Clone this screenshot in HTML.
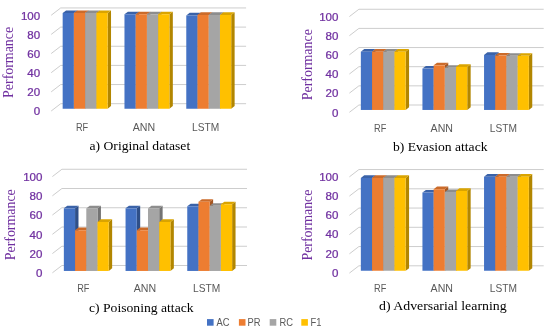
<!DOCTYPE html>
<html lang="en">
<head>
<meta charset="utf-8">
<title>Performance charts</title>
<style>
html,body{margin:0;padding:0;background:#fff;}
body{width:550px;height:332px;overflow:hidden;}
svg{display:block;filter:blur(0.35px);}
.yl{font-family:"Liberation Sans",Arial,sans-serif;font-size:10.5px;fill:#7030A0;stroke:#7030A0;stroke-width:0.25px;}
.cl{font-family:"Liberation Sans",Arial,sans-serif;font-size:10.2px;fill:#595959;}
.yt{font-family:"Liberation Serif","Times New Roman",serif;font-size:15px;fill:#7030A0;}
.cap{font-family:"Liberation Serif","Times New Roman",serif;font-size:13.5px;fill:#000;}
</style>
</head>
<body>
<svg width="550" height="332" viewBox="0 0 550 332">
<rect width="550" height="332" fill="#ffffff"/>
<g>
<path d="M51.20 111.00 L60.70 103.70 H246.10" fill="none" stroke="#CDCDCD" stroke-width="1"/>
<text transform="translate(40.20 115.30) scale(1.1 1)" text-anchor="end" class="yl">0</text>
<path d="M51.20 91.85 L60.70 84.55 H246.10" fill="none" stroke="#CDCDCD" stroke-width="1"/>
<text transform="translate(40.20 96.15) scale(1.1 1)" text-anchor="end" class="yl">20</text>
<path d="M51.20 72.70 L60.70 65.40 H246.10" fill="none" stroke="#CDCDCD" stroke-width="1"/>
<text transform="translate(40.20 77.00) scale(1.1 1)" text-anchor="end" class="yl">40</text>
<path d="M51.20 53.55 L60.70 46.25 H246.10" fill="none" stroke="#CDCDCD" stroke-width="1"/>
<text transform="translate(40.20 57.85) scale(1.1 1)" text-anchor="end" class="yl">60</text>
<path d="M51.20 34.40 L60.70 27.10 H246.10" fill="none" stroke="#CDCDCD" stroke-width="1"/>
<text transform="translate(40.20 38.70) scale(1.1 1)" text-anchor="end" class="yl">80</text>
<path d="M51.20 15.25 L60.70 7.95 H246.10" fill="none" stroke="#CDCDCD" stroke-width="1"/>
<text transform="translate(40.20 19.55) scale(1.1 1)" text-anchor="end" class="yl">100</text>
<polygon points="73.90,108.66 77.32,106.04 77.32,10.48 73.90,13.11" fill="#2F4F88"/>
<polygon points="62.67,13.11 73.90,13.11 77.32,10.48 66.09,10.48" fill="#3A62A8"/>
<polygon points="62.67,108.66 73.90,108.66 73.90,13.11 62.67,13.11" fill="#4472C4"/>
<polygon points="85.14,108.66 88.56,106.04 88.56,10.48 85.14,13.11" fill="#A55722"/>
<polygon points="73.90,13.11 85.14,13.11 88.56,10.48 77.32,10.48" fill="#CB6B2A"/>
<polygon points="73.90,108.66 85.14,108.66 85.14,13.11 73.90,13.11" fill="#ED7D31"/>
<polygon points="96.38,108.66 99.80,106.04 99.80,10.48 96.38,13.11" fill="#737373"/>
<polygon points="85.14,13.11 96.38,13.11 99.80,10.48 88.56,10.48" fill="#8D8D8D"/>
<polygon points="85.14,108.66 96.38,108.66 96.38,13.11 85.14,13.11" fill="#A5A5A5"/>
<polygon points="107.61,108.66 111.03,106.04 111.03,10.48 107.61,13.11" fill="#B28600"/>
<polygon points="96.38,13.11 107.61,13.11 111.03,10.48 99.80,10.48" fill="#DAA400"/>
<polygon points="96.38,108.66 107.61,108.66 107.61,13.11 96.38,13.11" fill="#FFC000"/>
<polygon points="135.70,108.66 139.12,106.04 139.12,11.63 135.70,14.25" fill="#2F4F88"/>
<polygon points="124.47,14.25 135.70,14.25 139.12,11.63 127.89,11.63" fill="#3A62A8"/>
<polygon points="124.47,108.66 135.70,108.66 135.70,14.25 124.47,14.25" fill="#4472C4"/>
<polygon points="146.94,108.66 150.36,106.04 150.36,11.63 146.94,14.25" fill="#A55722"/>
<polygon points="135.70,14.25 146.94,14.25 150.36,11.63 139.12,11.63" fill="#CB6B2A"/>
<polygon points="135.70,108.66 146.94,108.66 146.94,14.25 135.70,14.25" fill="#ED7D31"/>
<polygon points="158.18,108.66 161.60,106.04 161.60,11.63 158.18,14.25" fill="#737373"/>
<polygon points="146.94,14.25 158.18,14.25 161.60,11.63 150.36,11.63" fill="#8D8D8D"/>
<polygon points="146.94,108.66 158.18,108.66 158.18,14.25 146.94,14.25" fill="#A5A5A5"/>
<polygon points="169.41,108.66 172.83,106.04 172.83,11.63 169.41,14.25" fill="#B28600"/>
<polygon points="158.18,14.25 169.41,14.25 172.83,11.63 161.60,11.63" fill="#DAA400"/>
<polygon points="158.18,108.66 169.41,108.66 169.41,14.25 158.18,14.25" fill="#FFC000"/>
<polygon points="197.50,108.66 200.92,106.04 200.92,12.87 197.50,15.50" fill="#2F4F88"/>
<polygon points="186.27,15.50 197.50,15.50 200.92,12.87 189.69,12.87" fill="#3A62A8"/>
<polygon points="186.27,108.66 197.50,108.66 197.50,15.50 186.27,15.50" fill="#4472C4"/>
<polygon points="208.74,108.66 212.16,106.04 212.16,12.30 208.74,14.92" fill="#A55722"/>
<polygon points="197.50,14.92 208.74,14.92 212.16,12.30 200.92,12.30" fill="#CB6B2A"/>
<polygon points="197.50,108.66 208.74,108.66 208.74,14.92 197.50,14.92" fill="#ED7D31"/>
<polygon points="219.98,108.66 223.40,106.04 223.40,12.30 219.98,14.92" fill="#737373"/>
<polygon points="208.74,14.92 219.98,14.92 223.40,12.30 212.16,12.30" fill="#8D8D8D"/>
<polygon points="208.74,108.66 219.98,108.66 219.98,14.92 208.74,14.92" fill="#A5A5A5"/>
<polygon points="231.21,108.66 234.63,106.04 234.63,12.30 231.21,14.92" fill="#B28600"/>
<polygon points="219.98,14.92 231.21,14.92 234.63,12.30 223.40,12.30" fill="#DAA400"/>
<polygon points="219.98,108.66 231.21,108.66 231.21,14.92 219.98,14.92" fill="#FFC000"/>
<text transform="translate(82.10 130.70) scale(0.90 1)" text-anchor="middle" class="cl">RF</text>
<text transform="translate(143.90 130.70) scale(1.04 1)" text-anchor="middle" class="cl">ANN</text>
<text transform="translate(205.70 130.70) scale(1.00 1)" text-anchor="middle" class="cl">LSTM</text>
<text transform="translate(13.30 62.38) rotate(-90)" text-anchor="middle" class="yt" textLength="71" lengthAdjust="spacingAndGlyphs">Performance</text>
<text x="89.50" y="150.00" class="cap" textLength="100.7" lengthAdjust="spacingAndGlyphs">a) Original dataset</text>
</g>
<g>
<path d="M349.40 112.30 L358.90 105.00 H543.70" fill="none" stroke="#CDCDCD" stroke-width="1"/>
<text transform="translate(338.40 116.60) scale(1.1 1)" text-anchor="end" class="yl">0</text>
<path d="M349.40 93.15 L358.90 85.85 H543.70" fill="none" stroke="#CDCDCD" stroke-width="1"/>
<text transform="translate(338.40 97.45) scale(1.1 1)" text-anchor="end" class="yl">20</text>
<path d="M349.40 74.00 L358.90 66.70 H543.70" fill="none" stroke="#CDCDCD" stroke-width="1"/>
<text transform="translate(338.40 78.30) scale(1.1 1)" text-anchor="end" class="yl">40</text>
<path d="M349.40 54.85 L358.90 47.55 H543.70" fill="none" stroke="#CDCDCD" stroke-width="1"/>
<text transform="translate(338.40 59.15) scale(1.1 1)" text-anchor="end" class="yl">60</text>
<path d="M349.40 35.70 L358.90 28.40 H543.70" fill="none" stroke="#CDCDCD" stroke-width="1"/>
<text transform="translate(338.40 40.00) scale(1.1 1)" text-anchor="end" class="yl">80</text>
<path d="M349.40 16.55 L358.90 9.25 H543.70" fill="none" stroke="#CDCDCD" stroke-width="1"/>
<text transform="translate(338.40 20.85) scale(1.1 1)" text-anchor="end" class="yl">100</text>
<polygon points="372.04,109.96 375.46,107.34 375.46,49.12 372.04,51.75" fill="#2F4F88"/>
<polygon points="360.84,51.75 372.04,51.75 375.46,49.12 364.26,49.12" fill="#3A62A8"/>
<polygon points="360.84,109.96 372.04,109.96 372.04,51.75 360.84,51.75" fill="#4472C4"/>
<polygon points="383.24,109.96 386.66,107.34 386.66,49.12 383.24,51.75" fill="#A55722"/>
<polygon points="372.04,51.75 383.24,51.75 386.66,49.12 375.46,49.12" fill="#CB6B2A"/>
<polygon points="372.04,109.96 383.24,109.96 383.24,51.75 372.04,51.75" fill="#ED7D31"/>
<polygon points="394.44,109.96 397.86,107.34 397.86,49.12 394.44,51.75" fill="#737373"/>
<polygon points="383.24,51.75 394.44,51.75 397.86,49.12 386.66,49.12" fill="#8D8D8D"/>
<polygon points="383.24,109.96 394.44,109.96 394.44,51.75 383.24,51.75" fill="#A5A5A5"/>
<polygon points="405.64,109.96 409.06,107.34 409.06,49.12 405.64,51.75" fill="#B28600"/>
<polygon points="394.44,51.75 405.64,51.75 409.06,49.12 397.86,49.12" fill="#DAA400"/>
<polygon points="394.44,109.96 405.64,109.96 405.64,51.75 394.44,51.75" fill="#FFC000"/>
<polygon points="433.64,109.96 437.06,107.34 437.06,65.97 433.64,68.60" fill="#2F4F88"/>
<polygon points="422.44,68.60 433.64,68.60 437.06,65.97 425.86,65.97" fill="#3A62A8"/>
<polygon points="422.44,109.96 433.64,109.96 433.64,68.60 422.44,68.60" fill="#4472C4"/>
<polygon points="444.84,109.96 448.26,107.34 448.26,62.72 444.84,65.34" fill="#A55722"/>
<polygon points="433.64,65.34 444.84,65.34 448.26,62.72 437.06,62.72" fill="#CB6B2A"/>
<polygon points="433.64,109.96 444.84,109.96 444.84,65.34 433.64,65.34" fill="#ED7D31"/>
<polygon points="456.04,109.96 459.46,107.34 459.46,65.21 456.04,67.83" fill="#737373"/>
<polygon points="444.84,67.83 456.04,67.83 459.46,65.21 448.26,65.21" fill="#8D8D8D"/>
<polygon points="444.84,109.96 456.04,109.96 456.04,67.83 444.84,67.83" fill="#A5A5A5"/>
<polygon points="467.24,109.96 470.66,107.34 470.66,64.25 467.24,66.88" fill="#B28600"/>
<polygon points="456.04,66.88 467.24,66.88 470.66,64.25 459.46,64.25" fill="#DAA400"/>
<polygon points="456.04,109.96 467.24,109.96 467.24,66.88 456.04,66.88" fill="#FFC000"/>
<polygon points="495.24,109.96 498.66,107.34 498.66,52.28 495.24,54.91" fill="#2F4F88"/>
<polygon points="484.04,54.91 495.24,54.91 498.66,52.28 487.46,52.28" fill="#3A62A8"/>
<polygon points="484.04,109.96 495.24,109.96 495.24,54.91 484.04,54.91" fill="#4472C4"/>
<polygon points="506.44,109.96 509.86,107.34 509.86,52.95 506.44,55.58" fill="#A55722"/>
<polygon points="495.24,55.58 506.44,55.58 509.86,52.95 498.66,52.95" fill="#CB6B2A"/>
<polygon points="495.24,109.96 506.44,109.96 506.44,55.58 495.24,55.58" fill="#ED7D31"/>
<polygon points="517.64,109.96 521.06,107.34 521.06,53.24 517.64,55.87" fill="#737373"/>
<polygon points="506.44,55.87 517.64,55.87 521.06,53.24 509.86,53.24" fill="#8D8D8D"/>
<polygon points="506.44,109.96 517.64,109.96 517.64,55.87 506.44,55.87" fill="#A5A5A5"/>
<polygon points="528.84,109.96 532.26,107.34 532.26,53.24 528.84,55.87" fill="#B28600"/>
<polygon points="517.64,55.87 528.84,55.87 532.26,53.24 521.06,53.24" fill="#DAA400"/>
<polygon points="517.64,109.96 528.84,109.96 528.84,55.87 517.64,55.87" fill="#FFC000"/>
<text transform="translate(380.20 132.00) scale(0.90 1)" text-anchor="middle" class="cl">RF</text>
<text transform="translate(441.80 132.00) scale(1.04 1)" text-anchor="middle" class="cl">ANN</text>
<text transform="translate(503.40 132.00) scale(1.00 1)" text-anchor="middle" class="cl">LSTM</text>
<text transform="translate(311.50 64.68) rotate(-90)" text-anchor="middle" class="yt" textLength="71" lengthAdjust="spacingAndGlyphs">Performance</text>
<text x="393.00" y="151.00" class="cap" textLength="94.5" lengthAdjust="spacingAndGlyphs">b) Evasion attack</text>
</g>
<g>
<path d="M52.40 272.80 L61.90 265.50 H247.00" fill="none" stroke="#CDCDCD" stroke-width="1"/>
<text transform="translate(42.40 277.10) scale(1.1 1)" text-anchor="end" class="yl">0</text>
<path d="M52.40 253.55 L61.90 246.25 H247.00" fill="none" stroke="#CDCDCD" stroke-width="1"/>
<text transform="translate(42.40 257.85) scale(1.1 1)" text-anchor="end" class="yl">20</text>
<path d="M52.40 234.30 L61.90 227.00 H247.00" fill="none" stroke="#CDCDCD" stroke-width="1"/>
<text transform="translate(42.40 238.60) scale(1.1 1)" text-anchor="end" class="yl">40</text>
<path d="M52.40 215.05 L61.90 207.75 H247.00" fill="none" stroke="#CDCDCD" stroke-width="1"/>
<text transform="translate(42.40 219.35) scale(1.1 1)" text-anchor="end" class="yl">60</text>
<path d="M52.40 195.80 L61.90 188.50 H247.00" fill="none" stroke="#CDCDCD" stroke-width="1"/>
<text transform="translate(42.40 200.10) scale(1.1 1)" text-anchor="end" class="yl">80</text>
<path d="M52.40 176.55 L61.90 169.25 H247.00" fill="none" stroke="#CDCDCD" stroke-width="1"/>
<text transform="translate(42.40 180.85) scale(1.1 1)" text-anchor="end" class="yl">100</text>
<polygon points="75.07,270.96 78.49,268.34 78.49,205.68 75.07,208.31" fill="#2F4F88"/>
<polygon points="63.85,208.31 75.07,208.31 78.49,205.68 67.27,205.68" fill="#3A62A8"/>
<polygon points="63.85,270.96 75.07,270.96 75.07,208.31 63.85,208.31" fill="#4472C4"/>
<polygon points="86.29,270.96 89.71,268.34 89.71,227.62 86.29,230.25" fill="#A55722"/>
<polygon points="75.07,230.25 86.29,230.25 89.71,227.62 78.49,227.62" fill="#CB6B2A"/>
<polygon points="75.07,270.96 86.29,270.96 86.29,230.25 75.07,230.25" fill="#ED7D31"/>
<polygon points="97.51,270.96 100.93,268.34 100.93,205.77 97.51,208.40" fill="#737373"/>
<polygon points="86.29,208.40 97.51,208.40 100.93,205.77 89.71,205.77" fill="#8D8D8D"/>
<polygon points="86.29,270.96 97.51,270.96 97.51,208.40 86.29,208.40" fill="#A5A5A5"/>
<polygon points="108.73,270.96 112.15,268.34 112.15,219.34 108.73,221.97" fill="#B28600"/>
<polygon points="97.51,221.97 108.73,221.97 112.15,219.34 100.93,219.34" fill="#DAA400"/>
<polygon points="97.51,270.96 108.73,270.96 108.73,221.97 97.51,221.97" fill="#FFC000"/>
<polygon points="136.77,270.96 140.19,268.34 140.19,205.68 136.77,208.31" fill="#2F4F88"/>
<polygon points="125.55,208.31 136.77,208.31 140.19,205.68 128.97,205.68" fill="#3A62A8"/>
<polygon points="125.55,270.96 136.77,270.96 136.77,208.31 125.55,208.31" fill="#4472C4"/>
<polygon points="147.99,270.96 151.41,268.34 151.41,227.62 147.99,230.25" fill="#A55722"/>
<polygon points="136.77,230.25 147.99,230.25 151.41,227.62 140.19,227.62" fill="#CB6B2A"/>
<polygon points="136.77,270.96 147.99,270.96 147.99,230.25 136.77,230.25" fill="#ED7D31"/>
<polygon points="159.21,270.96 162.63,268.34 162.63,205.77 159.21,208.40" fill="#737373"/>
<polygon points="147.99,208.40 159.21,208.40 162.63,205.77 151.41,205.77" fill="#8D8D8D"/>
<polygon points="147.99,270.96 159.21,270.96 159.21,208.40 147.99,208.40" fill="#A5A5A5"/>
<polygon points="170.43,270.96 173.85,268.34 173.85,219.34 170.43,221.97" fill="#B28600"/>
<polygon points="159.21,221.97 170.43,221.97 173.85,219.34 162.63,219.34" fill="#DAA400"/>
<polygon points="159.21,270.96 170.43,270.96 170.43,221.97 159.21,221.97" fill="#FFC000"/>
<polygon points="198.47,270.96 201.89,268.34 201.89,203.66 198.47,206.28" fill="#2F4F88"/>
<polygon points="187.25,206.28 198.47,206.28 201.89,203.66 190.67,203.66" fill="#3A62A8"/>
<polygon points="187.25,270.96 198.47,270.96 198.47,206.28 187.25,206.28" fill="#4472C4"/>
<polygon points="209.69,270.96 213.11,268.34 213.11,199.13 209.69,201.76" fill="#A55722"/>
<polygon points="198.47,201.76 209.69,201.76 213.11,199.13 201.89,199.13" fill="#CB6B2A"/>
<polygon points="198.47,270.96 209.69,270.96 209.69,201.76 198.47,201.76" fill="#ED7D31"/>
<polygon points="220.91,270.96 224.33,268.34 224.33,203.17 220.91,205.80" fill="#737373"/>
<polygon points="209.69,205.80 220.91,205.80 224.33,203.17 213.11,203.17" fill="#8D8D8D"/>
<polygon points="209.69,270.96 220.91,270.96 220.91,205.80 209.69,205.80" fill="#A5A5A5"/>
<polygon points="232.13,270.96 235.55,268.34 235.55,201.63 232.13,204.26" fill="#B28600"/>
<polygon points="220.91,204.26 232.13,204.26 235.55,201.63 224.33,201.63" fill="#DAA400"/>
<polygon points="220.91,270.96 232.13,270.96 232.13,204.26 220.91,204.26" fill="#FFC000"/>
<text transform="translate(83.25 292.00) scale(0.90 1)" text-anchor="middle" class="cl">RF</text>
<text transform="translate(144.95 292.00) scale(1.04 1)" text-anchor="middle" class="cl">ANN</text>
<text transform="translate(206.65 292.00) scale(1.00 1)" text-anchor="middle" class="cl">LSTM</text>
<text transform="translate(14.50 224.73) rotate(-90)" text-anchor="middle" class="yt" textLength="71" lengthAdjust="spacingAndGlyphs">Performance</text>
<text x="89.00" y="311.50" class="cap" textLength="104.6" lengthAdjust="spacingAndGlyphs">c) Poisoning attack</text>
</g>
<g>
<path d="M349.40 273.10 L358.90 265.80 H543.70" fill="none" stroke="#CDCDCD" stroke-width="1"/>
<text transform="translate(338.40 276.90) scale(1.1 1)" text-anchor="end" class="yl">0</text>
<path d="M349.40 253.85 L358.90 246.55 H543.70" fill="none" stroke="#CDCDCD" stroke-width="1"/>
<text transform="translate(338.40 257.65) scale(1.1 1)" text-anchor="end" class="yl">20</text>
<path d="M349.40 234.60 L358.90 227.30 H543.70" fill="none" stroke="#CDCDCD" stroke-width="1"/>
<text transform="translate(338.40 238.40) scale(1.1 1)" text-anchor="end" class="yl">40</text>
<path d="M349.40 215.35 L358.90 208.05 H543.70" fill="none" stroke="#CDCDCD" stroke-width="1"/>
<text transform="translate(338.40 219.15) scale(1.1 1)" text-anchor="end" class="yl">60</text>
<path d="M349.40 196.10 L358.90 188.80 H543.70" fill="none" stroke="#CDCDCD" stroke-width="1"/>
<text transform="translate(338.40 199.90) scale(1.1 1)" text-anchor="end" class="yl">80</text>
<path d="M349.40 176.85 L358.90 169.55 H543.70" fill="none" stroke="#CDCDCD" stroke-width="1"/>
<text transform="translate(338.40 180.65) scale(1.1 1)" text-anchor="end" class="yl">100</text>
<polygon points="372.04,270.76 375.46,268.14 375.46,175.35 372.04,177.98" fill="#2F4F88"/>
<polygon points="360.84,177.98 372.04,177.98 375.46,175.35 364.26,175.35" fill="#3A62A8"/>
<polygon points="360.84,270.76 372.04,270.76 372.04,177.98 360.84,177.98" fill="#4472C4"/>
<polygon points="383.24,270.76 386.66,268.14 386.66,175.35 383.24,177.98" fill="#A55722"/>
<polygon points="372.04,177.98 383.24,177.98 386.66,175.35 375.46,175.35" fill="#CB6B2A"/>
<polygon points="372.04,270.76 383.24,270.76 383.24,177.98 372.04,177.98" fill="#ED7D31"/>
<polygon points="394.44,270.76 397.86,268.14 397.86,175.35 394.44,177.98" fill="#737373"/>
<polygon points="383.24,177.98 394.44,177.98 397.86,175.35 386.66,175.35" fill="#8D8D8D"/>
<polygon points="383.24,270.76 394.44,270.76 394.44,177.98 383.24,177.98" fill="#A5A5A5"/>
<polygon points="405.64,270.76 409.06,268.14 409.06,175.35 405.64,177.98" fill="#B28600"/>
<polygon points="394.44,177.98 405.64,177.98 409.06,175.35 397.86,175.35" fill="#DAA400"/>
<polygon points="394.44,270.76 405.64,270.76 405.64,177.98 394.44,177.98" fill="#FFC000"/>
<polygon points="433.64,270.76 437.06,268.14 437.06,189.88 433.64,192.51" fill="#2F4F88"/>
<polygon points="422.44,192.51 433.64,192.51 437.06,189.88 425.86,189.88" fill="#3A62A8"/>
<polygon points="422.44,270.76 433.64,270.76 433.64,192.51 422.44,192.51" fill="#4472C4"/>
<polygon points="444.84,270.76 448.26,268.14 448.26,186.61 444.84,189.24" fill="#A55722"/>
<polygon points="433.64,189.24 444.84,189.24 448.26,186.61 437.06,186.61" fill="#CB6B2A"/>
<polygon points="433.64,270.76 444.84,270.76 444.84,189.24 433.64,189.24" fill="#ED7D31"/>
<polygon points="456.04,270.76 459.46,268.14 459.46,189.40 456.04,192.03" fill="#737373"/>
<polygon points="444.84,192.03 456.04,192.03 459.46,189.40 448.26,189.40" fill="#8D8D8D"/>
<polygon points="444.84,270.76 456.04,270.76 456.04,192.03 444.84,192.03" fill="#A5A5A5"/>
<polygon points="467.24,270.76 470.66,268.14 470.66,188.34 467.24,190.97" fill="#B28600"/>
<polygon points="456.04,190.97 467.24,190.97 470.66,188.34 459.46,188.34" fill="#DAA400"/>
<polygon points="456.04,270.76 467.24,270.76 467.24,190.97 456.04,190.97" fill="#FFC000"/>
<polygon points="495.24,270.76 498.66,268.14 498.66,174.10 495.24,176.73" fill="#2F4F88"/>
<polygon points="484.04,176.73 495.24,176.73 498.66,174.10 487.46,174.10" fill="#3A62A8"/>
<polygon points="484.04,270.76 495.24,270.76 495.24,176.73 484.04,176.73" fill="#4472C4"/>
<polygon points="506.44,270.76 509.86,268.14 509.86,174.10 506.44,176.73" fill="#A55722"/>
<polygon points="495.24,176.73 506.44,176.73 509.86,174.10 498.66,174.10" fill="#CB6B2A"/>
<polygon points="495.24,270.76 506.44,270.76 506.44,176.73 495.24,176.73" fill="#ED7D31"/>
<polygon points="517.64,270.76 521.06,268.14 521.06,174.10 517.64,176.73" fill="#737373"/>
<polygon points="506.44,176.73 517.64,176.73 521.06,174.10 509.86,174.10" fill="#8D8D8D"/>
<polygon points="506.44,270.76 517.64,270.76 517.64,176.73 506.44,176.73" fill="#A5A5A5"/>
<polygon points="528.84,270.76 532.26,268.14 532.26,174.10 528.84,176.73" fill="#B28600"/>
<polygon points="517.64,176.73 528.84,176.73 532.26,174.10 521.06,174.10" fill="#DAA400"/>
<polygon points="517.64,270.76 528.84,270.76 528.84,176.73 517.64,176.73" fill="#FFC000"/>
<text transform="translate(380.20 292.20) scale(0.90 1)" text-anchor="middle" class="cl">RF</text>
<text transform="translate(441.80 292.20) scale(1.04 1)" text-anchor="middle" class="cl">ANN</text>
<text transform="translate(503.40 292.20) scale(1.00 1)" text-anchor="middle" class="cl">LSTM</text>
<text transform="translate(311.50 225.03) rotate(-90)" text-anchor="middle" class="yt" textLength="71" lengthAdjust="spacingAndGlyphs">Performance</text>
<text x="379.00" y="310.30" class="cap" textLength="127.6" lengthAdjust="spacingAndGlyphs">d) Adversarial learning</text>
</g>
<rect x="207.0" y="319.1" width="6.6" height="6.6" fill="#4472C4"/>
<text transform="translate(216.6 326.1) scale(0.92 1)" class="cl">AC</text>
<rect x="238.9" y="319.1" width="6.6" height="6.6" fill="#ED7D31"/>
<text transform="translate(247.6 326.1) scale(0.92 1)" class="cl">PR</text>
<rect x="269.7" y="319.1" width="6.6" height="6.6" fill="#A5A5A5"/>
<text transform="translate(279.6 326.1) scale(0.92 1)" class="cl">RC</text>
<rect x="301.3" y="319.1" width="6.6" height="6.6" fill="#FFC000"/>
<text transform="translate(310.6 326.1) scale(0.92 1)" class="cl">F1</text>
</svg>
</body>
</html>
